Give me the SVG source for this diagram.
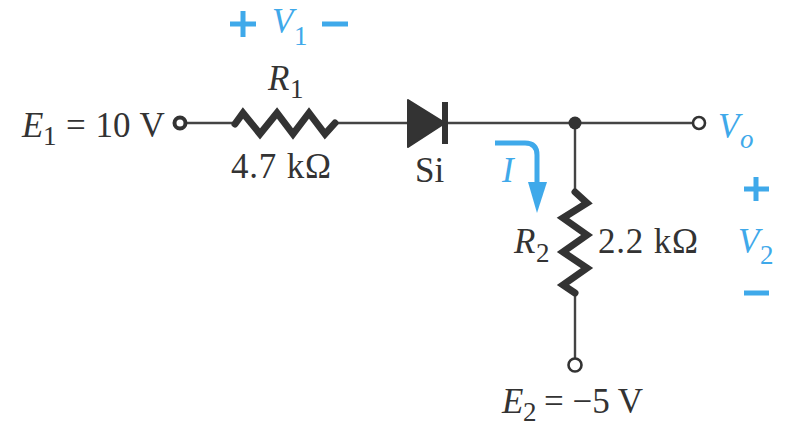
<svg xmlns="http://www.w3.org/2000/svg" width="795" height="446" viewBox="0 0 795 446">
<style>
.t{font-family:"Liberation Serif",serif;font-size:35px;fill:#333}
.b{fill:#3fa9ea}
.i{font-style:italic}
.n{font-style:normal}
.s{font-size:27px}
.k{letter-spacing:0.8px}
.wire{fill:none;stroke:#444;stroke-width:2.4}
.res{fill:none;stroke:#333;stroke-width:7;stroke-linejoin:miter;stroke-linecap:round}
.term{fill:#fff;stroke:#333;stroke-width:2.6}
.sign{fill:none;stroke:#3fa9ea;stroke-width:5}
</style>
<rect width="795" height="446" fill="#fff"/>
<g id="connectors">
<path class="wire" d="M186 123H235M335 123H408M445 123H693M575 123V192M575 293V358"/>
</g>
<g id="E1"><text class="t" y="137"><tspan class="i" x="22">E</tspan><tspan class="s" x="43" y="145">1</tspan><tspan x="66" y="137" style="word-spacing:1px">= 10 V</tspan></text><circle class="term" cx="180" cy="123" r="5.5" style="stroke-width:4"/></g>
<g id="R1"><path class="res" d="M235 124L243 113L260 134L277 113L293 134L309 113L325 134L335 123"/>
<text class="t i" x="268" y="90">R<tspan class="s n" x="290" y="98">1</tspan></text>
<text class="t k" x="231" y="178">4.7 kΩ</text></g>
<g id="D"><path d="M408 100L445 123L408 147Z" fill="#333" stroke="#333" stroke-width="2" stroke-linejoin="round"/><rect x="442" y="102" width="6" height="42" fill="#333"/>
<text class="t" x="415" y="182">Si</text></g>
<g id="node"><circle cx="575" cy="123" r="6.5" fill="#333"/></g>
<g id="Vo"><circle class="term" cx="699" cy="123" r="6"/>
<text class="t i b" x="718" y="138">V<tspan class="s" x="740" y="148">o</tspan></text></g>
<g id="R2"><path class="res" d="M575 192L587 203L563 218L587 235L563 252L587 268L563 285L575 293"/>
<text class="t i" x="514" y="253">R<tspan class="s n" x="536" y="262">2</tspan></text>
<text class="t k" x="598" y="253">2.2 kΩ</text></g>
<g id="E2"><circle class="term" cx="575" cy="365" r="6.5"/>
<text class="t" y="413"><tspan class="i" x="502">E</tspan><tspan class="s" x="523" y="421">2</tspan><tspan x="544" y="413">= −5 V</tspan></text></g>
<g id="V1"><path class="sign" d="M243 11V37M230 24H256M322 24H348"/>
<text class="t i b" x="272" y="33">V<tspan class="s n" x="294" y="45">1</tspan></text></g>
<g id="V2"><path class="sign" d="M756 177V201M744 189H769M744 293H769"/>
<text class="t i b" x="738" y="253">V<tspan class="s n" x="760" y="264">2</tspan></text></g>
<g id="I"><path d="M495 143H525Q537 143 537 155V185" fill="none" stroke="#3fa9ea" stroke-width="5"/><path d="M528 182H547L537 213Z" fill="#3fa9ea"/>
<text class="t i b" x="502" y="182">I</text></g>
</svg>
